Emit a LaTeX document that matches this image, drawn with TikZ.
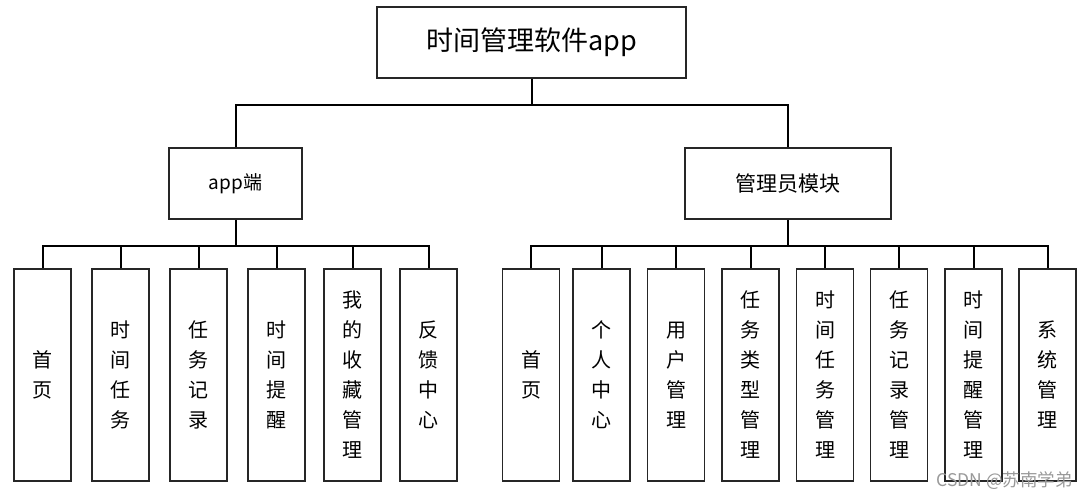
\documentclass[tikz,border=0pt]{standalone}
\usepackage{fontspec}
\setmainfont{Noto Sans CJK SC}
\usetikzlibrary{positioning}
\begin{document}
\begin{tikzpicture}[x=1pt,y=-1pt,
  box/.style={draw=black!85, line width=1.6pt, fill=white, inner sep=0pt, align=center},
  leaf/.style={box, minimum width=57pt, minimum height=212pt, text width=57pt, font=\fontsize{20}{30}\selectfont},
  conn/.style={draw=black, line width=2pt}]
\useasboundingbox (0,0) rectangle (1086,499);
\fill[white] (0,0) rectangle (1086,499);

\node[box, minimum width=309pt, minimum height=71pt, font=\fontsize{27}{30}\selectfont] (top) at (531.5,42.5) {时间管理软件app};
\node[box, minimum width=133pt, minimum height=71pt, font=\fontsize{19}{22}\selectfont] (app) at (235.5,183.5) {app端};
\node[box, minimum width=206pt, minimum height=71pt, font=\fontsize{21}{22}\selectfont] (adm) at (788,183.5) {管理员模块};

% app children
\node[leaf] (a1) at (42.5,375) {首\\页};
\node[leaf] (a2) at (120.5,375) {时\\间\\任\\务};
\node[leaf] (a3) at (198.5,375) {任\\务\\记\\录};
\node[leaf] (a4) at (276.5,375) {时\\间\\提\\醒};
\node[leaf] (a5) at (352.5,375) {我\\的\\收\\藏\\管\\理};
\node[leaf] (a6) at (428.5,375) {反\\馈\\中\\心};

% admin children
\node[leaf] (b1) at (531,375) {首\\页};
\node[leaf] (b2) at (601.5,375) {个\\人\\中\\心};
\node[leaf] (b3) at (676,375) {用\\户\\管\\理};
\node[leaf] (b4) at (750.5,375) {任\\务\\类\\型\\管\\理};
\node[leaf] (b5) at (825,375) {时\\间\\任\\务\\管\\理};
\node[leaf] (b6) at (899,375) {任\\务\\记\\录\\管\\理};
\node[leaf] (b7) at (973.5,375) {时\\间\\提\\醒\\管\\理};
\node[leaf] (b8) at (1047.5,375) {系\\统\\管\\理};

% connectors
\coordinate (j0) at (531.5,105);
\draw[conn] (top.south) -- (j0);
\draw[conn] (j0) -| (app.north);
\draw[conn] (j0) -| (adm.north);

\coordinate (j1) at (235.5,246);
\draw[conn] (app.south) -- (j1);
\foreach \n in {a1,a2,a3,a4,a5,a6} \draw[conn] (j1) -| (\n.north);

\coordinate (j2) at (788,246);
\draw[conn] (adm.south) -- (j2);
\foreach \n in {b1,b2,b3,b4,b5,b6,b7,b8} \draw[conn] (j2) -| (\n.north);

\node[anchor=east, text=black!40, font=\fontsize{17.5}{19}\selectfont, inner sep=0pt] (wm) at (1073,481) {CSDN @苏南学弟};
\end{tikzpicture}
\end{document}
